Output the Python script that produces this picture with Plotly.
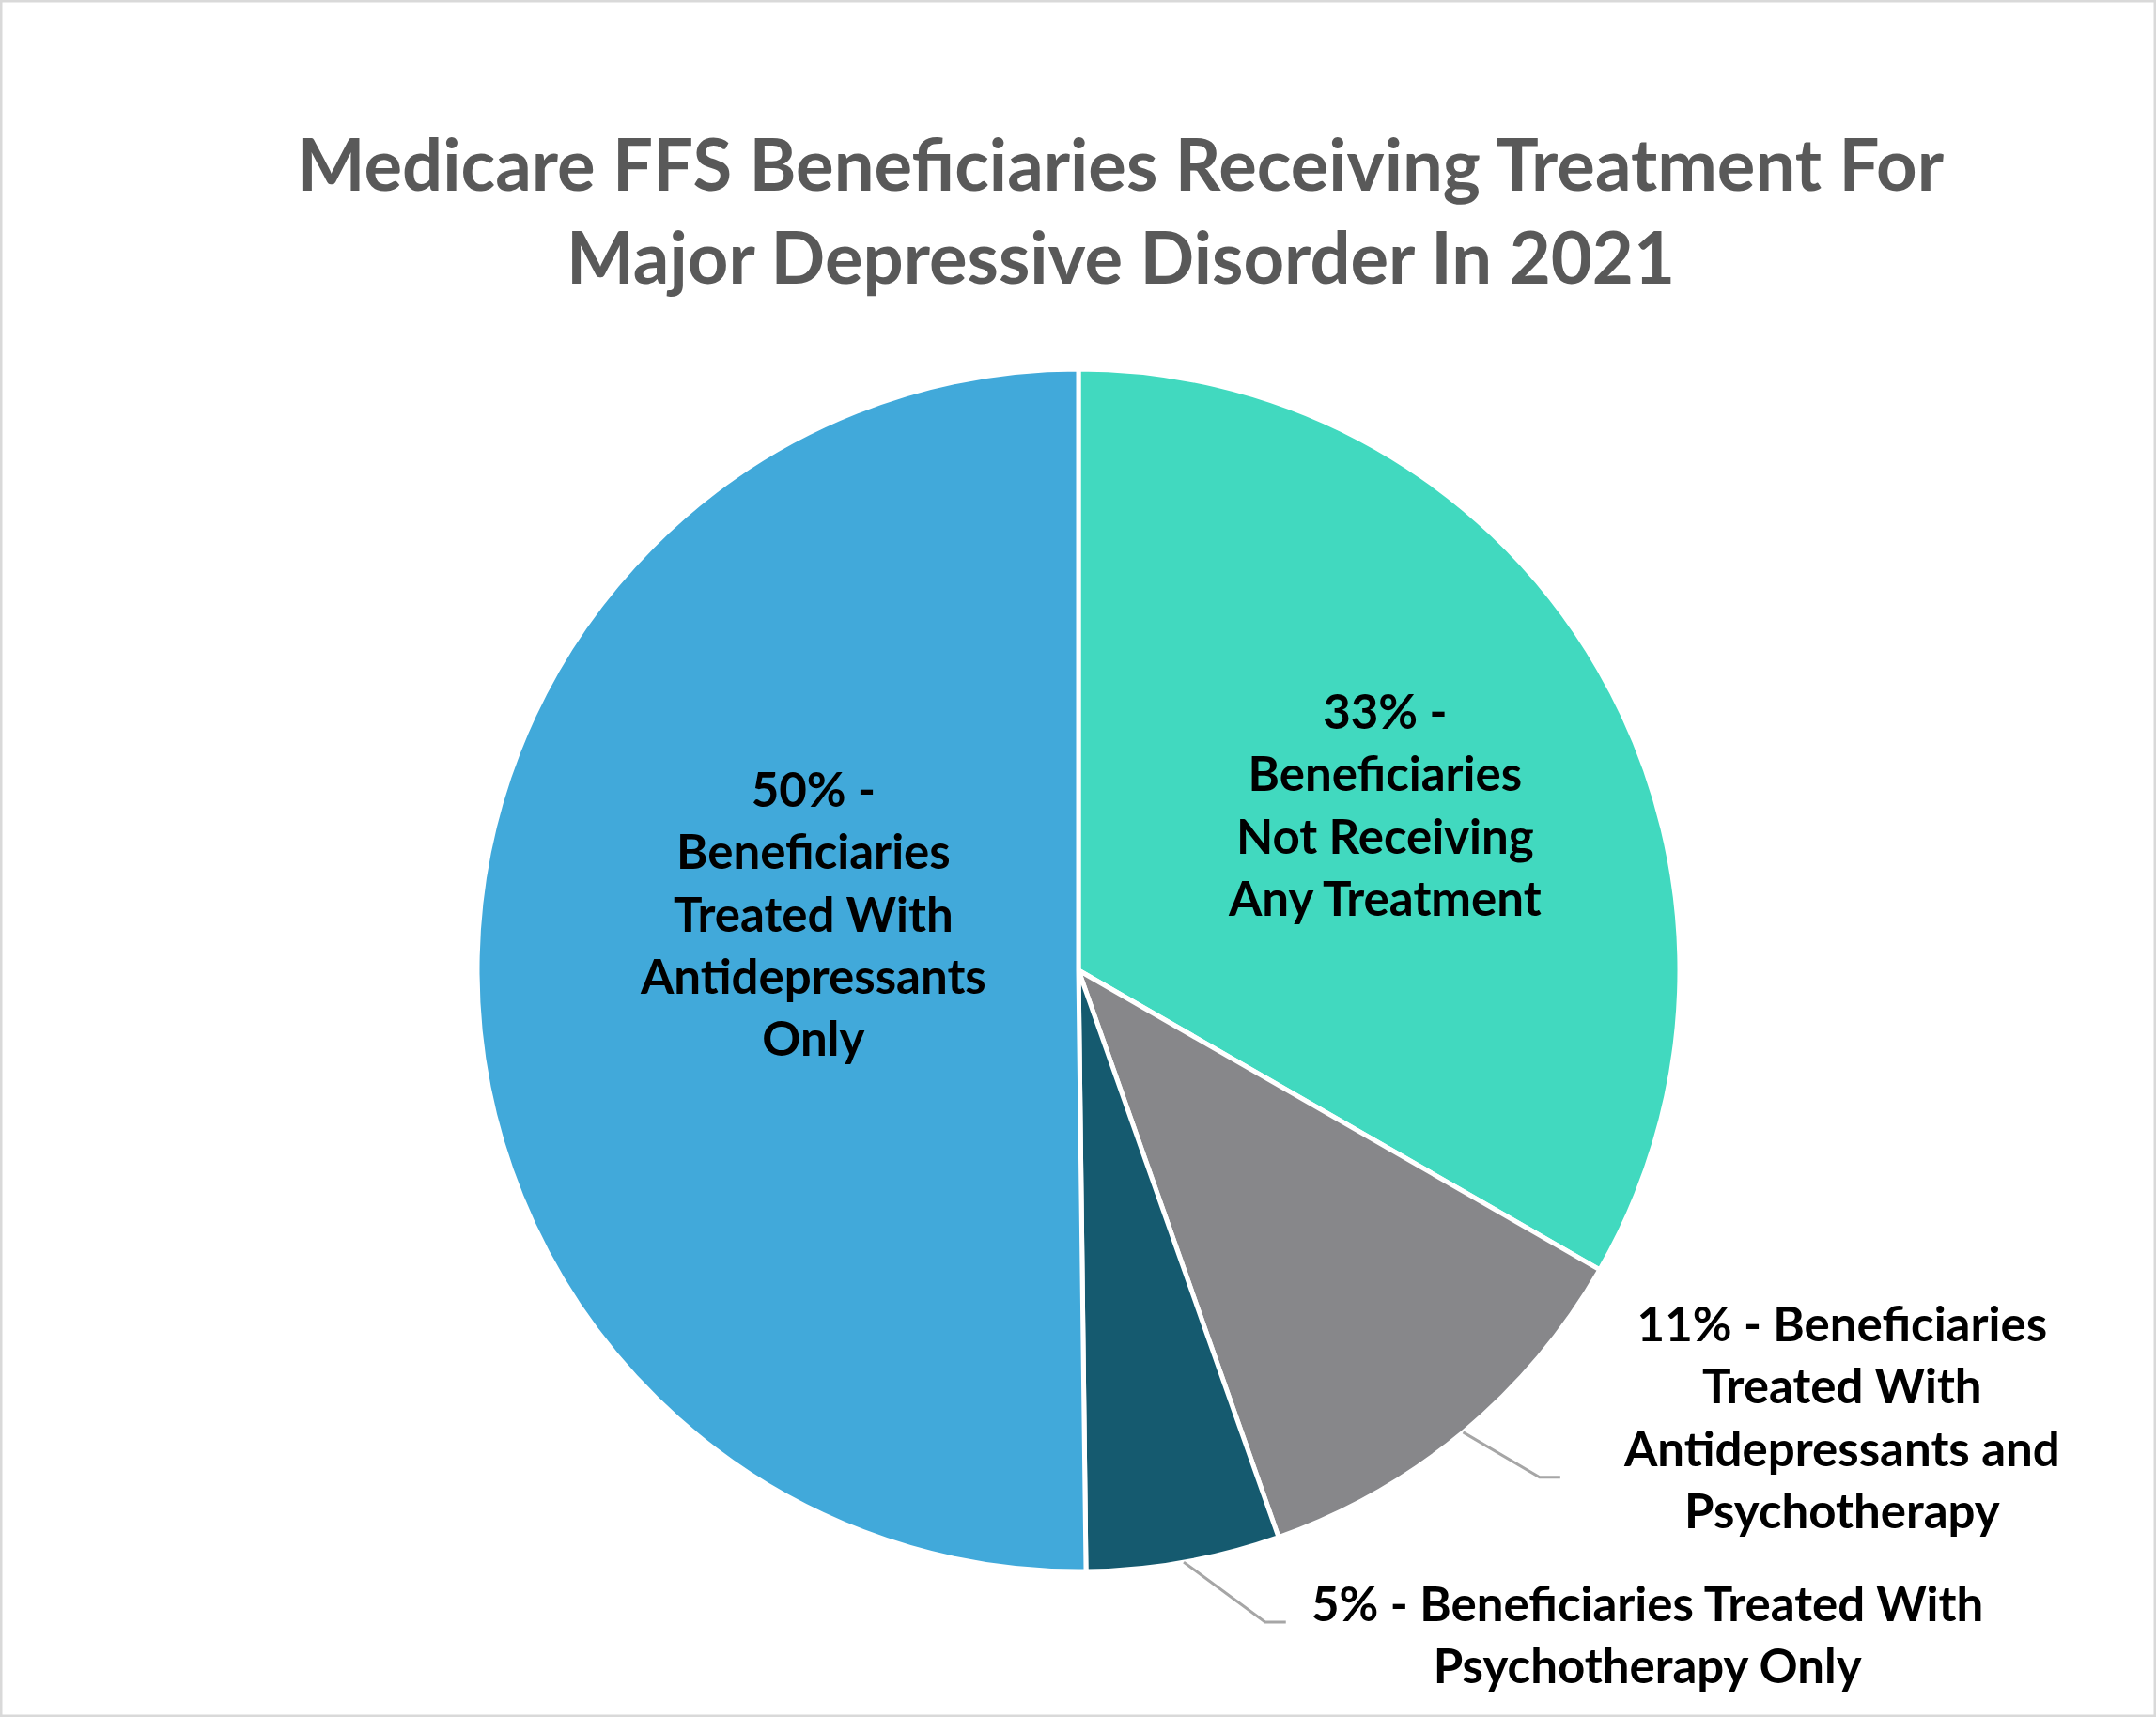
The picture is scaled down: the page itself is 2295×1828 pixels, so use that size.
import numpy as np
import plotly.graph_objects as go

# ---- data ----
categories = [
    "Beneficiaries Not Receiving Any Treatment",
    "Beneficiaries Treated With Antidepressants and Psychotherapy",
    "Beneficiaries Treated With Psychotherapy Only",
    "Beneficiaries Treated With Antidepressants Only",
]
values = [33.3, 11.3, 5.2, 50.2]
pct_labels = ["33%", "11%", "5%", "50%"]
label_texts = [
    "33% -<br>Beneficiaries<br>Not Receiving<br>Any Treatment",
    "11% - Beneficiaries<br>Treated With<br>Antidepressants and<br>Psychotherapy",
    "5% - Beneficiaries Treated With<br>Psychotherapy Only",
    "50% -<br>Beneficiaries<br>Treated With<br>Antidepressants<br>Only",
]
colors = ["#41D9BF", "#87878A", "#155A6F", "#41A9DA"]
title = "Medicare FFS Beneficiaries Receiving Treatment For<br>Major Depressive Disorder In 2021"

# ---- layout constants (pixels) ----
W, H = 2295, 1828
CX, CY, R = 1148, 1033, 640
FONT = "Lato"
LABEL_SIZE = 51

# label placement styles: inside labels (polar: angle deg clockwise from top, radius fraction)
inside_pos = {0: (61.5, 0.58), 3: (282.2, 0.451)}
# outside labels: leader elbow (angle shift deg, radius fraction), text offset from leader end (px)
outside_pos = {1: (-2.5, 1.14, (300, -65)), 2: (-5.9, 1.128, (385, 12))}


def px(x):
    return x / W


def py(y):
    return 1 - y / H


fig = go.Figure(
    go.Pie(
        labels=categories,
        values=values,
        textinfo="none",
        sort=False,
        direction="clockwise",
        rotation=0,
        marker=dict(colors=colors, line=dict(color="#FFFFFF", width=5)),
        domain=dict(x=[px(CX - R), px(CX + R)], y=[py(CY + R), py(CY - R)]),
        hoverinfo="skip",
        showlegend=False,
    )
)

total = sum(values)
cum = np.cumsum([0] + values[:-1])
shapes = []
annotations = []
label_font = dict(family=FONT, size=LABEL_SIZE, color="#000000", weight="bold")

for i, (ang, rf) in inside_pos.items():
    a = np.deg2rad(ang)
    x, y = CX + rf * R * np.sin(a), CY - rf * R * np.cos(a)
    annotations.append(dict(
        x=px(x), y=py(y), xref="paper", yref="paper", text=label_texts[i],
        showarrow=False, xanchor="center", yanchor="middle", align="center",
        font=label_font,
    ))

for i, (shift, rf, (ox, oy)) in outside_pos.items():
    mid = (cum[i] + values[i] / 2) / total * 2 * np.pi  # clockwise from 12 o'clock
    sx, sy = CX + R * np.sin(mid), CY - R * np.cos(mid)
    ang2 = mid + np.deg2rad(shift)
    ex, ey = CX + rf * R * np.sin(ang2), CY - rf * R * np.cos(ang2)
    fx, fy = ex + 22, ey
    shapes.append(dict(
        type="path", xref="paper", yref="paper",
        path=f"M {px(sx)},{py(sy)} L {px(ex)},{py(ey)} L {px(fx)},{py(fy)}",
        line=dict(color="#A6A6A6", width=3),
    ))
    annotations.append(dict(
        x=px(fx + ox), y=py(fy + oy), xref="paper", yref="paper",
        text=label_texts[i], showarrow=False, xanchor="center", yanchor="middle",
        align="center", font=label_font,
    ))

shapes.append(dict(
    type="rect", xref="paper", yref="paper", x0=0, y0=0, x1=1, y1=1,
    line=dict(color="#D9D9D9", width=5), fillcolor="rgba(0,0,0,0)",
))

fig.update_layout(
    width=W, height=H,
    margin=dict(l=0, r=0, t=0, b=0),
    paper_bgcolor="#FFFFFF",
    plot_bgcolor="#FFFFFF",
    title=dict(
        text=title, x=px(1193), xanchor="center", y=py(203), yanchor="middle",
        font=dict(family=FONT, size=76, color="#595959", weight="bold"),
    ),
    font=dict(family=FONT),
    shapes=shapes,
    annotations=annotations,
)

fig.write_html(
    "out.html",
    config={"displayModeBar": False},
    post_script="document.body.style.margin='0';",
)
